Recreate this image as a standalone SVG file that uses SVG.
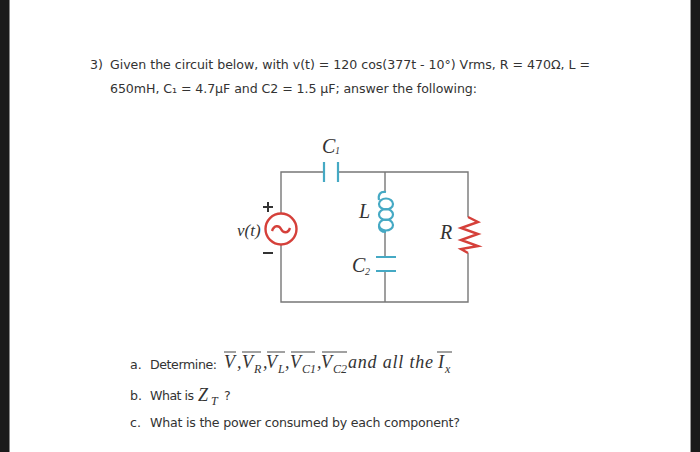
<svg xmlns="http://www.w3.org/2000/svg" width="700" height="452" viewBox="0 0 700 452">
<style>
.t{font-family:"DejaVu Sans",Verdana,sans-serif;font-size:12.6px;fill:#333}
.m{font-family:"Liberation Serif",serif;font-style:italic;font-size:18px;fill:#333}
.s{font-family:"Liberation Serif",serif;font-style:italic;font-size:12px;fill:#333}
.c{font-family:"Liberation Serif",serif;font-style:italic;font-size:20px;fill:#333}
.n{font-family:"Liberation Serif",serif;font-style:italic;font-size:10px;fill:#333}
.w{fill:none;stroke:#777;stroke-width:1.4}
.b{fill:none;stroke:#45a9c4;stroke-width:2.2}
.r{fill:none;stroke:#d5403a;stroke-width:2.4}
.o{stroke:#444;stroke-width:1.2}
</style>
<rect width="700" height="452" fill="#fff"/>
<rect x="0" y="0" width="9" height="452" fill="#1a1a1a"/>
<rect x="9" y="0" width="1" height="452" fill="#888"/>
<rect x="691" y="0" width="9" height="452" fill="#1a1a1a"/>
<rect x="690" y="0" width="1" height="452" fill="#999"/>
<g id="question">
<text class="t" x="90" y="69">3)</text>
<text class="t" x="110" y="69" textLength="480" lengthAdjust="spacing">Given the circuit below, with v(t) = 120 cos(377t - 10°) Vrms, R = 470Ω, L =</text>
<text class="t" x="110" y="93" textLength="367" lengthAdjust="spacing">650mH, C₁ = 4.7μF and C2 = 1.5 μF; answer the following:</text>
</g>
<g id="connectors">
<path class="w" d="M281 213V172H324M338 172H468V217M468 253V302H281V245"/>
<path class="w" d="M385 172V192M385 232V257M385 271V302"/>
</g>
<g id="C1">
<path class="b" d="M324 162V182M338 162V182"/>
<text class="c" x="322" y="153">C</text><text class="n" x="335" y="154">1</text>
</g>
<g id="L">
<path class="b" d="M386 192C380 191 378 195 379 200M379 226C379 230 381 232 386 232"/>
<ellipse class="b" cx="386" cy="204" rx="7" ry="5.5"/>
<ellipse class="b" cx="386" cy="214.500" rx="7" ry="5.5"/>
<ellipse class="b" cx="386" cy="225" rx="7" ry="5.5"/>
<text class="c" x="359" y="218">L</text>
</g>
<g id="C2">
<path class="b" d="M376 257H396M376 271H396"/>
<text class="c" x="352" y="272">C</text><text class="n" x="365" y="275">2</text>
</g>
<g id="R">
<path class="r" d="M468 217L478 222L461 228L478 234L461 240L478 246L461 249L468 253"/>
<text class="c" x="440" y="239">R</text>
</g>
<g id="source">
<circle class="r" cx="281" cy="229" r="15.5"/>
<path class="r" d="M272 231C274 225 279 225 281 229C283 233 288 234 290 228"/>
<path d="M263 207H273M268 202V212M263 253H273" stroke="#333" stroke-width="2" fill="none"/>
<text x="237" y="236" style="font-family:'Liberation Serif',serif;font-size:17px;font-style:italic" fill="#333">v(t)</text>
</g>
<g id="parts">
<text class="t" x="130" y="369">a.</text>
<text class="t" x="150" y="369" textLength="67" lengthAdjust="spacing">Determine:</text>
<text class="m" x="224" y="368">V</text><text class="m" x="237" y="368">,</text>
<text class="m" x="242" y="368">V</text><text class="s" x="254" y="373">R</text><text class="m" x="263" y="368">,</text>
<text class="m" x="266" y="368">V</text><text class="s" x="278" y="373">L</text><text class="m" x="285" y="368">,</text>
<text class="m" x="290" y="368">V</text><text class="s" x="302" y="373" textLength="14">C1</text><text class="m" x="317" y="368">,</text>
<text class="m" x="321" y="368">V</text><text class="s" x="333" y="373" textLength="14">C2</text>
<text class="m" x="348" y="368" textLength="85" lengthAdjust="spacing">and all the</text>
<text class="m" x="438" y="368">I</text><text class="s" x="445" y="373">x</text>
<path class="o" d="M224 352H236M242 352H261M267 352H285M291 352H315M322 352H347M437 352H452"/>
<text class="t" x="130" y="400">b.</text>
<text class="t" x="150" y="400" textLength="44" lengthAdjust="spacing">What is</text>
<text class="m" x="198" y="401">Z</text><text class="s" x="211" y="405">T</text>
<text class="t" x="224" y="400">?</text>
<text class="t" x="130" y="427">c.</text>
<text class="t" x="150" y="427" textLength="310" lengthAdjust="spacing">What is the power consumed by each component?</text>
</g>
</svg>
